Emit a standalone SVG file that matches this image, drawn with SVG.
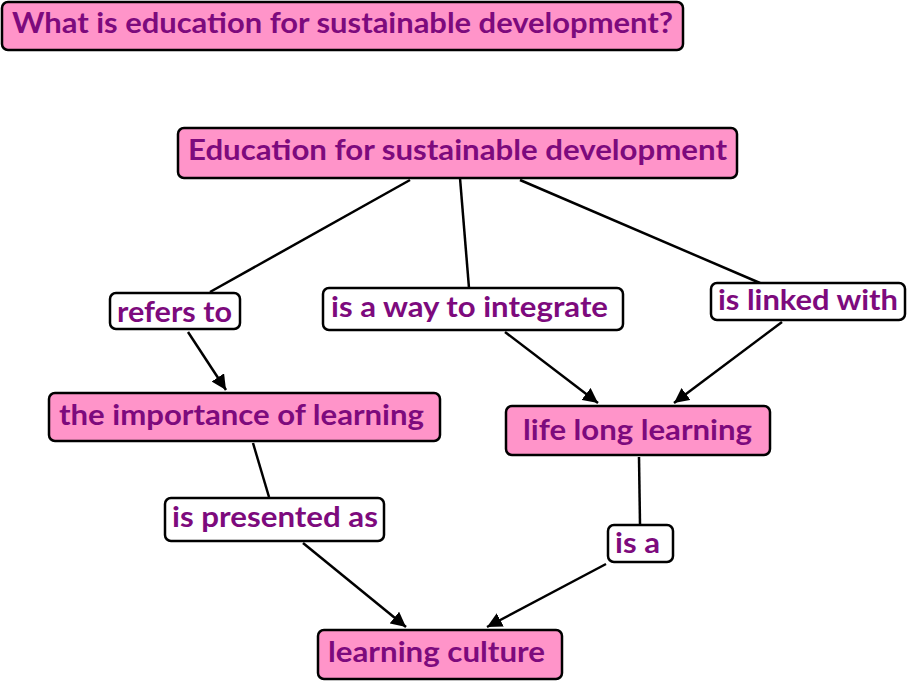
<svg xmlns="http://www.w3.org/2000/svg" width="907" height="681" viewBox="0 0 907 681">
<defs>
<style>
.c{fill:#ff94c9;stroke:#000;stroke-width:2.5}
.l{fill:#fff;stroke:#000;stroke-width:2.5}
text{font-family:Lato,"Open Sans","DejaVu Sans",sans-serif;font-weight:bold;fill:#7d0a7d;font-size:29px}
.e line{stroke:#000;stroke-width:2.5}
</style>
<marker id="a" viewBox="0 0 10 10" refX="10" refY="5" markerWidth="6" markerHeight="6" orient="auto" markerUnits="strokeWidth"><path d="M0,0L10,5L0,10z" fill="#000"/></marker>
</defs>
<rect width="907" height="681" fill="#fff"/>
<g class="e">
<line x1="410" y1="180" x2="210" y2="292"/>
<line x1="460" y1="178" x2="469" y2="288"/>
<line x1="520" y1="180" x2="760" y2="283"/>
<line x1="188" y1="332" x2="226" y2="390" marker-end="url(#a)"/>
<line x1="505" y1="332" x2="598" y2="403" marker-end="url(#a)"/>
<line x1="782" y1="322" x2="674" y2="403" marker-end="url(#a)"/>
<line x1="253" y1="443" x2="269" y2="497"/>
<line x1="303" y1="543" x2="406" y2="627" marker-end="url(#a)"/>
<line x1="639" y1="457" x2="640" y2="524"/>
<line x1="606" y1="564" x2="487" y2="627" marker-end="url(#a)"/>
</g>
<g id="title"><rect class="c" x="2" y="2" width="681" height="48" rx="6"/><text x="12" y="33" textLength="661" lengthAdjust="spacingAndGlyphs">What is education for sustainable development?</text></g>
<g id="esd"><rect class="c" x="178" y="128" width="559" height="50" rx="6"/><text x="188" y="160" textLength="539" lengthAdjust="spacingAndGlyphs">Education for sustainable development</text></g>
<g id="refers"><rect class="l" x="110" y="293" width="130" height="36" rx="6"/><text x="117" y="322" textLength="115" lengthAdjust="spacingAndGlyphs">refers to</text></g>
<g id="integrate"><rect class="l" x="323" y="288" width="300" height="42" rx="6"/><text x="331" y="317" textLength="277" lengthAdjust="spacingAndGlyphs">is a way to integrate</text></g>
<g id="linked"><rect class="l" x="711" y="283" width="194" height="37" rx="6"/><text x="718" y="310" textLength="180" lengthAdjust="spacingAndGlyphs">is linked with</text></g>
<g id="importance"><rect class="c" x="49" y="393" width="391" height="48" rx="6"/><text x="59" y="425" textLength="365" lengthAdjust="spacingAndGlyphs">the importance of learning</text></g>
<g id="lifelong"><rect class="c" x="506" y="406" width="264" height="49" rx="6"/><text x="523" y="440" textLength="229" lengthAdjust="spacingAndGlyphs">life long learning</text></g>
<g id="presented"><rect class="l" x="165" y="498" width="219" height="43" rx="6"/><text x="172" y="527" textLength="206" lengthAdjust="spacingAndGlyphs">is presented as</text></g>
<g id="isa"><rect class="l" x="608" y="525" width="65" height="37" rx="6"/><text x="615" y="553" textLength="45" lengthAdjust="spacingAndGlyphs">is a</text></g>
<g id="culture"><rect class="c" x="318" y="630" width="244" height="49" rx="6"/><text x="328" y="662" textLength="217" lengthAdjust="spacingAndGlyphs">learning culture</text></g>
</svg>
